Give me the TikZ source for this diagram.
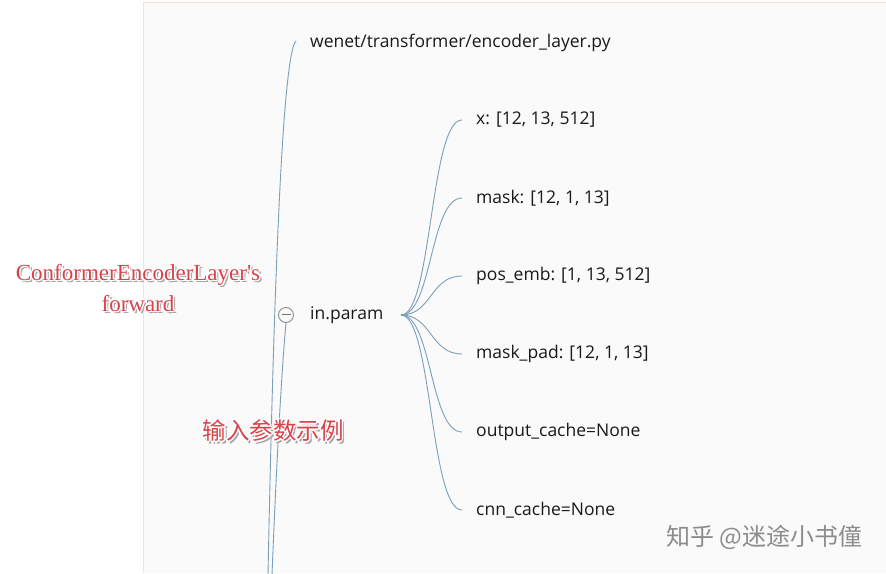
\documentclass[tikz,border=0pt]{standalone}
\usepackage{fontspec}
\setmainfont{Open Sans}
\newfontfamily\cjk{Noto Sans CJK SC}
\newfontfamily\redserif{Liberation Serif}
\definecolor{branch}{HTML}{7A9FB8}
\definecolor{panel}{HTML}{FAFAFB}
\definecolor{edge}{HTML}{F3E6CC}
\definecolor{redtxt}{HTML}{D8434A}
\tikzset{
  leaf/.style={anchor=west,inner sep=0pt,font=\fontsize{17.5}{20}\selectfont,text=black!90},
  br/.style={draw=branch,line width=0.9pt},
}
\newcommand{\halotext}[4]{% pos, name, font, text
  \foreach \dx/\dy in {2/-2.5,2.5/-2}{\node[font=#3,text=black!35,align=center] at ([shift={(\dx pt,\dy pt)}]#1) {#4};}
  \foreach \dx/\dy in {-1.5/0,1.5/0,0/1.5,0/-1.5,1/1,-1/1,1/-1,-1/-1}{\node[font=#3,text=white,align=center] at ([shift={(\dx pt,\dy pt)}]#1) {#4};}
  \node[font=#3,text=redtxt,align=center] (#2) at (#1) {#4};
}
\begin{document}
\begin{tikzpicture}[x=1pt,y=1pt]
\useasboundingbox (0,0) rectangle (886,573);
\fill[white] (0,0) rectangle (886,573);
\fill[panel] (143,0) rectangle (886,571);
\draw[edge,line width=0.8pt] (143,0) -- (143,571) -- (886,571);
\coordinate (r1) at (268,-2);
\coordinate (r2) at (272,-2);
\node[leaf] (wenet) at (310,530) {wenet/transformer/encoder\_layer.py};
\draw[br] (r1) .. controls (274,300) and (283,520) .. (296,532);
\node[draw=black!45,circle,minimum size=15pt,inner sep=0pt,line width=0.9pt] (col) at (286,258) {};
\draw[black!55,line width=1pt] ([xshift=-4.5pt]col.center) -- ([xshift=4.5pt]col.center);
\node[leaf] (inp) at (310,258) {in.param};
\draw[br] (r2) .. controls (278,150) and (284,230) .. (col.south);
\coordinate (fan) at (401,258);
\foreach \n/\t/\y in {a/{x: [12, 13, 512]}/453, b/{mask: [12, 1, 13]}/375, c/{pos\_emb: [1, 13, 512]}/297, d/{mask\_pad: [12, 1, 13]}/219, e/{output\_cache=None}/141, f/{cnn\_cache=None}/63}{
  \node[leaf] (\n) at (476,\y) {\t};
  \draw[br] (fan) .. controls (432,258) and (430,\y) .. (462,\y);
}
\halotext{138,285}{ann1}{\redserif\fontsize{23}{31}\selectfont}{ConformerEncoderLayer's\\forward}
\halotext{273,142}{ann2}{\cjk\fontsize{23.5}{26}\selectfont}{输入参数示例}
\node[font=\cjk\fontsize{24}{26}\selectfont,text=black!45,anchor=east] (wm) at (866,36) {知乎 @迷途小书僮};
\end{tikzpicture}
\end{document}
